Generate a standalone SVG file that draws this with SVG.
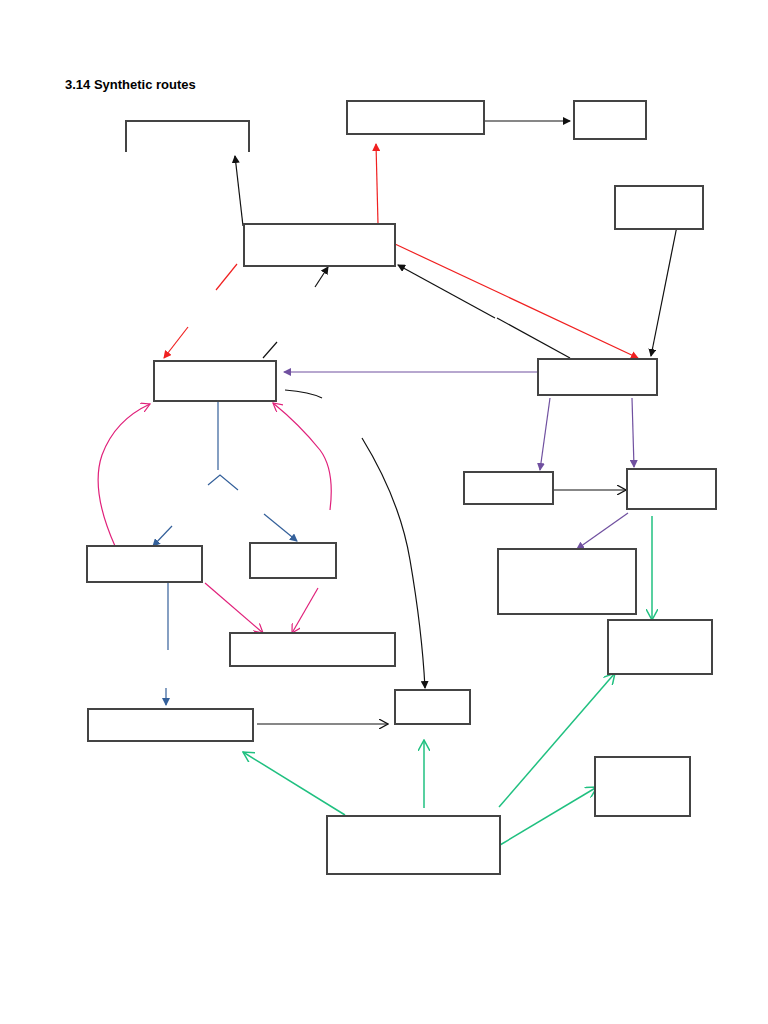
<svg xmlns="http://www.w3.org/2000/svg" width="768" height="1024" viewBox="0 0 768 1024">
<style>
.b{fill:#fff;stroke:#444;stroke-width:2}
.k{stroke:#111;fill:none;stroke-width:1.2}
.r{stroke:#f02020;fill:none;stroke-width:1.2}
.p{stroke:#7050a0;fill:none;stroke-width:1.2}
.m{stroke:#e0207a;fill:none;stroke-width:1.2}
.n{stroke:#34609a;fill:none;stroke-width:1.2}
.g{stroke:#20c080;fill:none;stroke-width:1.5}
</style>
<defs>
<marker id="ak" markerWidth="8" markerHeight="8" refX="7" refY="4" orient="auto" markerUnits="userSpaceOnUse"><path d="M0,0L8,4L0,8z" fill="#111"/></marker>
<marker id="ar" markerWidth="8" markerHeight="8" refX="7" refY="4" orient="auto" markerUnits="userSpaceOnUse"><path d="M0,0L8,4L0,8z" fill="#f02020"/></marker>
<marker id="ap" markerWidth="8" markerHeight="8" refX="7" refY="4" orient="auto" markerUnits="userSpaceOnUse"><path d="M0,0L8,4L0,8z" fill="#7050a0"/></marker>
<marker id="an" markerWidth="8" markerHeight="8" refX="7" refY="4" orient="auto" markerUnits="userSpaceOnUse"><path d="M0,0L8,4L0,8z" fill="#34609a"/></marker>
<marker id="am" markerWidth="10" markerHeight="10" refX="9" refY="5" orient="auto" markerUnits="userSpaceOnUse"><path d="M0,0L9,5L0,10" fill="none" stroke="#e0207a" stroke-width="1.2"/></marker>
<marker id="ag" markerWidth="12" markerHeight="12" refX="11" refY="6" orient="auto" markerUnits="userSpaceOnUse"><path d="M0,0L11,6L0,12" fill="none" stroke="#20c080" stroke-width="1.5"/></marker>
<marker id="ao" markerWidth="10" markerHeight="10" refX="9" refY="5" orient="auto" markerUnits="userSpaceOnUse"><path d="M0,0L9,5L0,10" fill="none" stroke="#111" stroke-width="1.2"/></marker>
</defs>
<rect width="768" height="1024" fill="#fff"/>
<text x="65" y="89" font-family="Liberation Sans, Arial, sans-serif" font-weight="bold" font-size="13">3.14 Synthetic routes</text>
<g id="connectors">
<path class="k" d="M243,226L235,156" marker-end="url(#ak)"/>
<path class="r" d="M378,224L376,144" marker-end="url(#ar)"/>
<path class="k" d="M484,121L570,121" marker-end="url(#ak)"/>
<path class="k" d="M677,226L651,356" marker-end="url(#ak)"/>
<path class="r" d="M395,244L638,358" marker-end="url(#ar)"/>
<path class="k" d="M570,358L497,318"/>
<path class="k" d="M495,318L398,265" marker-end="url(#ak)"/>
<path class="k" d="M315,287L328,267" marker-end="url(#ak)"/>
<path class="r" d="M237,264L216,290"/>
<path class="r" d="M188,327L164,358" marker-end="url(#ar)"/>
<path class="k" d="M263,358L277,342"/>
<path class="p" d="M538,372L284,372" marker-end="url(#ap)"/>
<path class="k" d="M285,390Q310,392 322,398"/>
<path class="k" d="M362,438Q400,500 410,560Q422,630 425,688" marker-end="url(#ak)"/>
<path class="n" d="M218,401L218,470M208,485L220,475L238,490"/>
<path class="n" d="M172,526L153,546" marker-end="url(#an)"/>
<path class="n" d="M264,514L297,541" marker-end="url(#an)"/>
<path class="m" d="M115,546Q90,490 102,455Q115,420 150,404" marker-end="url(#am)"/>
<path class="m" d="M330,510Q335,470 320,450Q300,425 273,403" marker-end="url(#am)"/>
<path class="m" d="M205,583L263,633" marker-end="url(#am)"/>
<path class="m" d="M318,588L292,633" marker-end="url(#am)"/>
<path class="n" d="M168,580L168,650"/>
<path class="n" d="M166,688L166,705" marker-end="url(#an)"/>
<path class="k" d="M257,724L388,724" marker-end="url(#ao)"/>
<path class="p" d="M550,398L540,470" marker-end="url(#ap)"/>
<path class="p" d="M632,398L634,467" marker-end="url(#ap)"/>
<path class="k" d="M553,490L626,490" marker-end="url(#ao)"/>
<path class="p" d="M628,513L577,549" marker-end="url(#ap)"/>
<path class="g" d="M652,516L652,620" marker-end="url(#ag)"/>
<path class="g" d="M345,815L243,752" marker-end="url(#ag)"/>
<path class="g" d="M424,808L424,740" marker-end="url(#ag)"/>
<path class="g" d="M499,807L615,673" marker-end="url(#ag)"/>
<path class="g" d="M500,845L597,787" marker-end="url(#ag)"/>
</g>
<g id="nA"><path d="M126,152L126,121L249,121L249,152" fill="none" stroke="#444" stroke-width="2"/></g>
<g id="nB"><rect class="b" x="347" y="101" width="137" height="33"/></g>
<g id="nC"><rect class="b" x="574" y="101" width="72" height="38"/></g>
<g id="nD"><rect class="b" x="244" y="224" width="151" height="42"/></g>
<g id="nE"><rect class="b" x="615" y="186" width="88" height="43"/></g>
<g id="nF"><rect class="b" x="154" y="361" width="122" height="40"/></g>
<g id="nG"><rect class="b" x="538" y="359" width="119" height="36"/></g>
<g id="nH"><rect class="b" x="464" y="472" width="89" height="32"/></g>
<g id="nI"><rect class="b" x="627" y="469" width="89" height="40"/></g>
<g id="nJ"><rect class="b" x="498" y="549" width="138" height="65"/></g>
<g id="nK"><rect class="b" x="87" y="546" width="115" height="36"/></g>
<g id="nL"><rect class="b" x="250" y="543" width="86" height="35"/></g>
<g id="nM"><rect class="b" x="230" y="633" width="165" height="33"/></g>
<g id="nN"><rect class="b" x="608" y="620" width="104" height="54"/></g>
<g id="nO"><rect class="b" x="88" y="709" width="165" height="32"/></g>
<g id="nP"><rect class="b" x="395" y="690" width="75" height="34"/></g>
<g id="nQ"><rect class="b" x="595" y="757" width="95" height="59"/></g>
<g id="nR"><rect class="b" x="327" y="816" width="173" height="58"/></g>
</svg>
